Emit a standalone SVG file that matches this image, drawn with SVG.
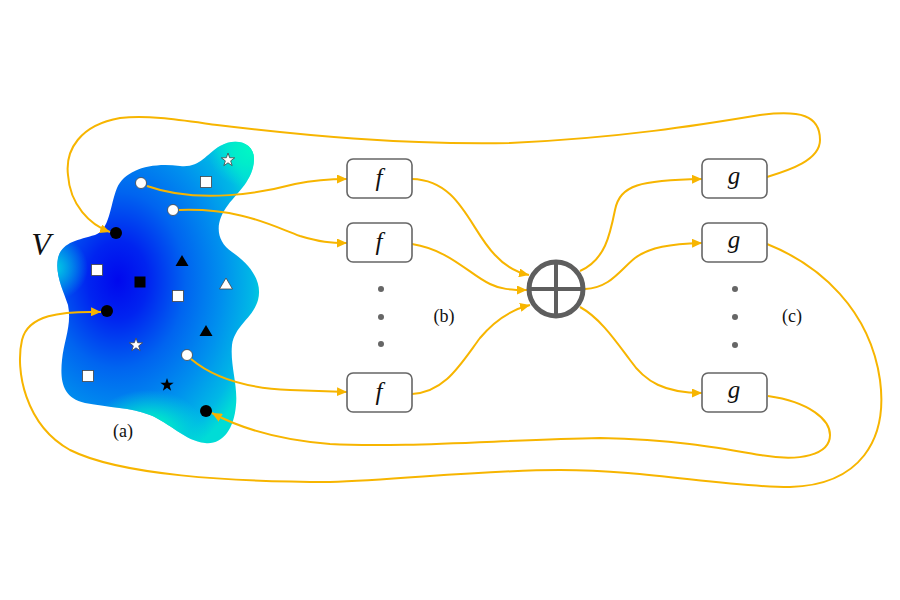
<svg xmlns="http://www.w3.org/2000/svg" width="900" height="600" viewBox="0 0 900 600">
<style>
.box{fill:#fff;stroke:#666;stroke-width:1.6}
.conn{fill:none;stroke:#f7b500;stroke-width:2}
.arr{marker-end:url(#ah)}
.lbl{font-family:"Liberation Serif",serif;font-size:18px;fill:#111;text-anchor:middle}
.fn{font-family:"Liberation Serif",serif;font-style:italic;font-size:25px;fill:#111;text-anchor:middle}
.dot{fill:#666}
.w{fill:#fff;stroke:#444;stroke-width:0.8}
.b{fill:#000}
</style>
<defs>
<marker id="ah" markerUnits="userSpaceOnUse" markerWidth="11" markerHeight="9" refX="10" refY="4.5" orient="auto">
<path d="M0,0 L10,4.5 L0,9 Z" fill="#f7b500"/>
</marker>
<path id="blobPath" d="M117,188 C125,170 150,162 180,166 C200,168 205,155 220,146 C235,137 255,142 254,160 C253,180 238,192 228,205 C215,222 215,240 232,252 C255,268 262,285 258,300 C253,318 235,325 232,345 C230,365 238,385 236,405 C234,430 222,445 205,443 C185,441 170,423 150,415 C130,407 110,408 85,403 C62,398 60,380 62,360 C64,340 72,325 68,305 C63,290 55,275 58,258 C62,242 78,240 95,235 C110,230 110,205 117,188 Z"/>
<clipPath id="blobClip"><use href="#blobPath"/></clipPath>
<radialGradient id="gBase" gradientUnits="userSpaceOnUse" cx="118" cy="280" r="150" gradientTransform="translate(118 280) scale(1 1.3) translate(-118 -280)">
<stop offset="0" stop-color="#0008ee"/>
<stop offset="0.2" stop-color="#0024f0"/>
<stop offset="0.45" stop-color="#0064f0"/>
<stop offset="0.7" stop-color="#0090ee"/>
<stop offset="0.9" stop-color="#00b8e6"/>
<stop offset="1" stop-color="#00dcd6"/>
</radialGradient>
<radialGradient id="gGreen" gradientUnits="objectBoundingBox" cx="0.5" cy="0.5" r="0.5">
<stop offset="0" stop-color="#00f8c4" stop-opacity="1"/>
<stop offset="0.4" stop-color="#00f0c8" stop-opacity="0.8"/>
<stop offset="1" stop-color="#00e0d8" stop-opacity="0"/>
</radialGradient>
<radialGradient id="gCyan" gradientUnits="objectBoundingBox" cx="0.5" cy="0.5" r="0.5">
<stop offset="0" stop-color="#00d0e4" stop-opacity="1"/>
<stop offset="1" stop-color="#00d0e4" stop-opacity="0"/>
</radialGradient>
<path id="star" d="M0,-7 L1.65,-2.27 L6.66,-2.16 L2.66,0.87 L4.11,5.66 L0,2.8 L-4.11,5.66 L-2.66,0.87 L-6.66,-2.16 L-1.65,-2.27 Z"/>
<path id="tri" d="M0,-6 L6.5,5 L-6.5,5 Z"/>
<rect id="sq" x="-5.5" y="-5.5" width="11" height="11"/>
</defs>
<rect width="900" height="600" fill="#fff"/>

<g id="node-V">
<use href="#blobPath" fill="url(#gBase)"/>
<g clip-path="url(#blobClip)">
<ellipse cx="148" cy="432" rx="58" ry="42" fill="url(#gGreen)"/>
<ellipse cx="252" cy="150" rx="45" ry="38" fill="url(#gGreen)"/>
<ellipse cx="54" cy="268" rx="34" ry="32" fill="url(#gCyan)"/>
</g>
<use href="#star" x="228" y="160" class="w"/>
<use href="#sq" x="206" y="182" class="w"/>
<use href="#sq" x="97" y="270" class="w"/>
<use href="#sq" x="140" y="282" class="b"/>
<use href="#sq" x="178" y="296" class="w"/>
<use href="#sq" x="88" y="376" class="w"/>
<use href="#tri" x="182" y="261" class="b"/>
<use href="#tri" x="226" y="284" class="w"/>
<use href="#tri" x="206" y="331" class="b"/>
<use href="#star" x="136" y="345" class="w"/>
<use href="#star" x="167" y="385" class="b"/>
<circle cx="141" cy="183" r="5.5" class="w"/>
<circle cx="173" cy="210" r="5.5" class="w"/>
<circle cx="187" cy="355" r="5.5" class="w"/>
<circle cx="116" cy="233" r="6" class="b"/>
<circle cx="107" cy="311" r="6" class="b"/>
<circle cx="206" cy="411" r="6" class="b"/>
<text x="41" y="255" font-family="Liberation Serif, serif" font-style="italic" font-size="32" fill="#111" text-anchor="middle">V</text>
<text x="123" y="437" class="lbl">(a)</text>
</g>

<g id="connectors">
<path class="conn arr" d="M147,186 C200,205 265,192 295,184 C315,180 330,179 347,179"/>
<path class="conn arr" d="M179,210 C240,208 270,225 300,236 C320,242 330,243 347,243"/>
<path class="conn arr" d="M191,359 C210,375 240,388 290,390 L347,392"/>
<path class="conn arr" d="M412,179 C460,180 470,230 495,255 C505,266 515,272 529,275"/>
<path class="conn arr" d="M412,244 C450,250 470,275 490,284 C500,289 510,290 527,290"/>
<path class="conn arr" d="M412,394 C445,392 460,365 480,338 C495,320 510,310 530,305"/>
<path class="conn arr" d="M580,271 C605,260 610,235 615,210 C620,185 640,180 702,179"/>
<path class="conn arr" d="M585,289 C610,288 620,270 635,258 C650,247 670,244 702,243"/>
<path class="conn arr" d="M580,307 C600,318 615,340 630,360 C645,382 665,393 702,393"/>
<path class="conn arr" d="M767,177 C790,170 820,160 820,140 C820,115 800,110 760,115 C700,125 620,138 510,143 C400,145 300,135 217,125 C180,120 150,115 120,118 C80,125 65,150 68,175 C70,205 90,225 110,232"/>
<path class="conn arr" d="M767,244 C820,265 870,310 880,380 C888,440 860,485 790,487 C720,487 650,470 560,470 C480,470 400,480 330,482 C230,482 120,475 70,450 C25,425 15,370 22,340 C28,315 60,311 101,312"/>
<path class="conn arr" d="M768,396 C810,402 830,420 830,435 C830,455 800,462 760,455 C720,448 680,440 600,438 C500,440 400,448 330,444 C280,440 240,428 212,413"/>
</g>

<g id="node-f1"><rect class="box" x="347" y="159" width="65" height="39" rx="6"/><text class="fn" x="379" y="186">f</text></g>
<g id="node-f2"><rect class="box" x="347" y="223" width="65" height="39" rx="6"/><text class="fn" x="379" y="250">f</text></g>
<g id="node-f3"><rect class="box" x="347" y="373" width="65" height="39" rx="6"/><text class="fn" x="379" y="400">f</text></g>
<g id="dots-b"><circle class="dot" cx="381" cy="289" r="3"/><circle class="dot" cx="381" cy="317" r="3"/><circle class="dot" cx="381" cy="344" r="3"/></g>
<text class="lbl" x="444" y="322">(b)</text>

<g id="node-sum">
<circle cx="556" cy="289" r="27" fill="#fff" stroke="#5e5e5e" stroke-width="5"/>
<path d="M529,289 H583 M556,262 V316" stroke="#5e5e5e" stroke-width="4"/>
</g>

<g id="node-g1"><rect class="box" x="702" y="159" width="65" height="39" rx="6"/><text class="fn" x="734" y="184">g</text></g>
<g id="node-g2"><rect class="box" x="702" y="223" width="65" height="39" rx="6"/><text class="fn" x="734" y="248">g</text></g>
<g id="node-g3"><rect class="box" x="702" y="373" width="65" height="39" rx="6"/><text class="fn" x="734" y="398">g</text></g>
<g id="dots-c"><circle class="dot" cx="735" cy="289" r="3"/><circle class="dot" cx="735" cy="317" r="3"/><circle class="dot" cx="735" cy="345" r="3"/></g>
<text class="lbl" x="792" y="322">(c)</text>
</svg>
